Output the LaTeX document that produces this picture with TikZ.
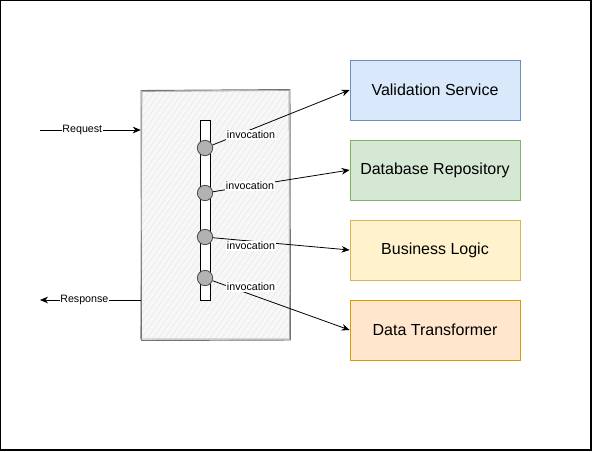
\documentclass[tikz,border=0pt]{standalone}
\usepackage{fontspec}
\setmainfont{Liberation Sans}
\usetikzlibrary{arrows.meta,patterns.meta}
\definecolor{bfill}{HTML}{DAE8FC}\definecolor{bline}{HTML}{6C8EBF}
\definecolor{gfill}{HTML}{D5E8D4}\definecolor{gline}{HTML}{82B366}
\definecolor{yfill}{HTML}{FFF2CC}\definecolor{yline}{HTML}{D6B656}
\definecolor{ofill}{HTML}{FFE6CC}\definecolor{oline}{HTML}{D79B00}
\begin{document}
\begin{tikzpicture}[x=0.75pt,y=-0.75pt,
  svc/.style={draw, minimum width=127.5pt, minimum height=45pt, font=\fontsize{12}{14}\selectfont, line width=0.6pt},
  dot/.style={circle, draw=black!70, fill=black!30, minimum size=11.5pt, inner sep=0pt, line width=0.6pt},
  lbl/.style={fill=white, inner sep=0.6pt, font=\fontsize{8}{9.5}\selectfont},
  conn/.style={line width=0.6pt, -{Stealth[length=6pt,width=5pt]}}]
\useasboundingbox (0,0) rectangle (592,451);
\draw[line width=0.8pt] (0.5,0.5) rectangle (591,450);
% sketch container
\fill[black!3] (141,90) rectangle (290,340);
\fill[pattern={Lines[angle=55,distance=3.5pt,line width=0.3pt]}, pattern color=black!10] (141,90) rectangle (290,340);
\node[minimum width=111.75pt, minimum height=187.5pt, inner sep=0pt] (box) at (215.5,215) {};
\draw[black!55, line width=0.7pt] (141,90.5) -- (290,89.5) -- (290.5,340) -- (141.5,340.5) -- cycle;
\draw[black!35, line width=0.5pt] (142,91.5) -- (289,90.5) -- (289.5,339) -- (140.5,339) -- cycle;
% bar
\node[draw, fill=white, minimum width=7.5pt, minimum height=135pt, inner sep=0pt, line width=0.6pt] (bar) at (205,210) {};
\node[dot] (c1) at (205,148) {};
\node[dot] (c2) at (205,193) {};
\node[dot] (c3) at (205,237) {};
\node[dot] (c4) at (205,278) {};
% services
\node[svc, fill=bfill, draw=bline] (v) at (435,90) {Validation Service};
\node[svc, fill=gfill, draw=gline] (d) at (435,170) {Database Repository};
\node[svc, fill=yfill, draw=yline] (b) at (435,250) {Business Logic};
\node[svc, fill=ofill, draw=oline] (t) at (435,330) {Data Transformer};
% invocations
\draw[conn] (c1) -- (v.west);
\draw[conn] (c2) -- (d.west);
\draw[conn] (c3) -- (b.west);
\draw[conn] (c4) -- (t.west);
\node[lbl] (l1) at (251,135) {invocation};
\node[lbl] (l2) at (250,186) {invocation};
\node[lbl] (l3) at (251,246) {invocation};
\node[lbl] (l4) at (251,287) {invocation};
% request / response
\coordinate (rq) at (40,130);
\coordinate (rs) at (40,300);
\draw[conn] (rq) -- node[lbl, pos=0.42] {Request} (box.west |- rq);
\draw[conn] (box.west |- rs) -- node[lbl, pos=0.56] {Response} (rs);
\end{tikzpicture}
\end{document}
